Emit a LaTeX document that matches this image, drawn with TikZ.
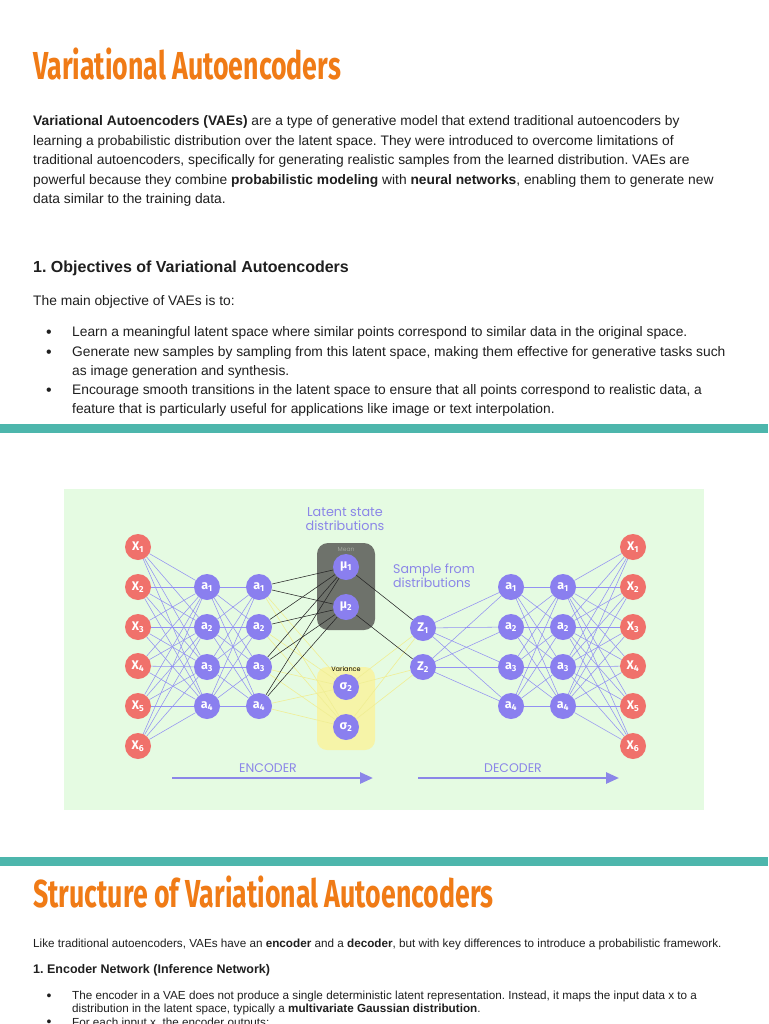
\documentclass[tikz,border=0pt]{standalone}
\usepackage{fontspec}
\setmainfont{Liberation Sans}
\newfontfamily\titlefont[FakeStretch=0.685]{Fira Sans}
\newfontfamily\diagfont{Poppins}
\newfontfamily\nodefont{Fira Sans}
\usetikzlibrary{arrows.meta}
\definecolor{titleorange}{HTML}{F07B16}
\definecolor{barteal}{HTML}{4DB6AC}
\definecolor{bodytext}{HTML}{1F1F1F}
\definecolor{diagbg}{HTML}{E5FBE2}
\definecolor{nodered}{HTML}{F0716B}
\definecolor{nodepurple}{HTML}{8A7FEF}
\definecolor{linklav}{HTML}{9391F2}
\definecolor{meangrey}{HTML}{6E726B}
\definecolor{meanlabel}{HTML}{A3A89F}
\definecolor{varyellow}{HTML}{F6F4A8}
\definecolor{linkyellow}{HTML}{F0EE94}
\definecolor{labellav}{HTML}{8B86E8}
\pgfdeclarelayer{boxes}
\pgfdeclarelayer{links}
\pgfsetlayers{boxes,links,main}
\frenchspacing
\begin{document}
\begin{tikzpicture}[x=1pt,y=-1pt,
  txt/.style={anchor=base west,inner sep=0pt,text=bodytext,font=\fontsize{13.8}{16}\selectfont},
  smalltxt/.style={anchor=base west,inner sep=0pt,text=bodytext,font=\fontsize{11.7}{14}\selectfont},
  bigtitle/.style={anchor=base west,inner sep=0pt,text=titleorange,font=\titlefont\bfseries\fontsize{39}{44}\selectfont},
  dotmark/.style={anchor=base,inner sep=0pt,text=bodytext},
  neuron/.style={circle,minimum size=26pt,inner sep=0pt,text=white,font=\nodefont\bfseries\fontsize{12.5}{13}\selectfont},
  innode/.style={neuron,fill=nodered},
  hidnode/.style={neuron,fill=nodepurple},
  lav/.style={draw=linklav,line width=0.55pt},
  blk/.style={draw=black!85,line width=0.55pt},
  yel/.style={draw=linkyellow,line width=0.6pt},
  lbl/.style={text=labellav,font=\diagfont\fontsize{12.8}{14}\selectfont,inner sep=0pt},
  flow/.style={draw=labellav,line width=2.6pt,-{Triangle[width=11pt,length=13pt]}}
]
\useasboundingbox (0,0) rectangle (768,1024);
\begin{pgfonlayer}{boxes}
\fill[white] (0,0) rectangle (768,1024);
\end{pgfonlayer}

% ---------- top text ----------
\node[bigtitle] (t1) at (33,80) {Variational Autoencoders};
\node[txt] (p1) at (33,126) {\textbf{Variational Autoencoders (VAEs)} are a type of generative model that extend traditional autoencoders by};
\node[txt] (p2) at (33,145.5) {learning a probabilistic distribution over the latent space. They were introduced to overcome limitations of};
\node[txt] (p3) at (33,165) {traditional autoencoders, specifically for generating realistic samples from the learned distribution. VAEs are};
\node[txt] (p4) at (33,184.5) {powerful because they combine \textbf{probabilistic modeling} with \textbf{neural networks}, enabling them to generate new};
\node[txt] (p5) at (33,204) {data similar to the training data.};

\node[txt,font=\bfseries\fontsize{16}{18}\selectfont] (h1) at (33,272) {1. Objectives of Variational Autoencoders};
\node[txt] (q0) at (33,305) {The main objective of VAEs is to:};
\node[dotmark,font=\fontsize{16}{16}\selectfont] (b1) at (49,337) {•};
\node[txt] (q1) at (72,336) {Learn a meaningful latent space where similar points correspond to similar data in the original space.};
\node[dotmark,font=\fontsize{16}{16}\selectfont] (b2) at (49,357) {•};
\node[txt] (q2) at (72,356) {Generate new samples by sampling from this latent space, making them effective for generative tasks such};
\node[txt] (q3) at (72,375) {as image generation and synthesis.};
\node[dotmark,font=\fontsize{16}{16}\selectfont] (b3) at (49,395) {•};
\node[txt] (q4) at (72,394) {Encourage smooth transitions in the latent space to ensure that all points correspond to realistic data, a};
\node[txt] (q5) at (72,413) {feature that is particularly useful for applications like image or text interpolation.};

\fill[barteal] (0,424) rectangle (768,433);

% ---------- diagram ----------
\begin{pgfonlayer}{boxes}
\fill[diagbg] (64,489) rectangle (704,810);
\node[fill=meangrey,rounded corners=11pt,minimum width=58pt,minimum height=87pt,inner sep=0pt] (meanbox) at (346,586.5) {};
\node[fill=varyellow,rounded corners=10pt,minimum width=58pt,minimum height=83pt,inner sep=0pt] (varbox) at (346,708.5) {};
\end{pgfonlayer}

\foreach \i/\y in {1/547,2/587,3/627,4/666,5/706,6/746} {
  \node[innode] (xi\i) at (138,\y) {X\textsubscript{\i}};
  \node[innode] (xo\i) at (633,\y) {X\textsubscript{\i}};
}
\foreach \i/\y in {1/587,2/627,3/667,4/706} {
  \node[hidnode] (ea\i) at (207,\y) {a\textsubscript{\i}};
  \node[hidnode] (eb\i) at (259,\y) {a\textsubscript{\i}};
  \node[hidnode] (da\i) at (511,\y) {a\textsubscript{\i}};
  \node[hidnode] (db\i) at (563,\y) {a\textsubscript{\i}};
}
\node[hidnode] (mu1) at (346,567) {μ\textsubscript{1}};
\node[hidnode] (mu2) at (346,607) {μ\textsubscript{2}};
\node[hidnode] (sg1) at (346,687) {σ\textsubscript{2}};
\node[hidnode] (sg2) at (346,727) {σ\textsubscript{2}};
\node[hidnode] (z1) at (423,628) {Z\textsubscript{1}};
\node[hidnode] (z2) at (423,667) {Z\textsubscript{2}};

\begin{pgfonlayer}{links}
\foreach \i in {1,...,6} \foreach \j in {1,...,4} \draw[lav] (xi\i) -- (ea\j);
\foreach \i in {1,...,4} \foreach \j in {1,...,4} \draw[lav] (ea\i) -- (eb\j);
\foreach \i in {1,...,4} \foreach \j in {1,2} \draw[yel] (eb\i) -- (sg\j);
\foreach \i in {1,2} \foreach \j in {1,2} \draw[yel] (sg\i) -- (z\j);
\foreach \i in {1,...,4} \foreach \j in {1,2} \draw[blk] (eb\i) -- (mu\j);
\draw[blk] (mu1) -- (z1);
\draw[blk] (mu2) -- (z2);
\foreach \i in {1,2} \foreach \j in {1,...,4} \draw[lav] (z\i) -- (da\j);
\foreach \i in {1,...,4} \foreach \j in {1,...,4} \draw[lav] (da\i) -- (db\j);
\foreach \i in {1,...,4} \foreach \j in {1,...,6} \draw[lav] (db\i) -- (xo\j);
\end{pgfonlayer}

\node[lbl,align=center] (latentlbl) at (345,519) {Latent state\\distributions};
\node[lbl,align=left,anchor=west,font=\diagfont\fontsize{12.6}{14.5}\selectfont] (samplelbl) at (393,575.5) {Sample from\\distributions};
\node[inner sep=0pt,text=meanlabel,font=\diagfont\fontsize{6}{7}\selectfont] (meanlbl) at (346,549) {Mean};
\node[inner sep=0pt,text=black,font=\diagfont\fontsize{6.5}{7}\selectfont] (varlbl) at (346,669) {Variance};

\coordinate (encS) at (172,778);
\coordinate (encE) at (373,778);
\draw[flow] (encS) -- (encE);
\node[lbl,font=\diagfont\fontsize{12.5}{13}\selectfont] (enclbl) at (268,768) {ENCODER};
\coordinate (decS) at (418,778);
\coordinate (decE) at (619,778);
\draw[flow] (decS) -- (decE);
\node[lbl,font=\diagfont\fontsize{12.5}{13}\selectfont] (declbl) at (513,768) {DECODER};

\fill[barteal] (0,857) rectangle (768,866);

% ---------- bottom text ----------
\node[bigtitle] (t2) at (33,907) {Structure of Variational Autoencoders};
\node[smalltxt] (r0) at (33,947) {Like traditional autoencoders, VAEs have an \textbf{encoder} and a \textbf{decoder}, but with key differences to introduce a probabilistic framework.};
\node[smalltxt,font=\bfseries\fontsize{12.5}{14}\selectfont] (h2) at (33,973) {1. Encoder Network (Inference Network)};
\node[dotmark,font=\fontsize{14}{14}\selectfont] (c1) at (49,1000) {•};
\node[smalltxt] (r1) at (72,999) {The encoder in a VAE does not produce a single deterministic latent representation. Instead, it maps the input data x to a};
\node[smalltxt] (r2) at (72,1012) {distribution in the latent space, typically a \textbf{multivariate Gaussian distribution}.};
\node[dotmark,font=\fontsize{14}{14}\selectfont] (c2) at (49,1026) {•};
\node[smalltxt] (r3) at (72,1026) {For each input x, the encoder outputs:};
\end{tikzpicture}
\end{document}
